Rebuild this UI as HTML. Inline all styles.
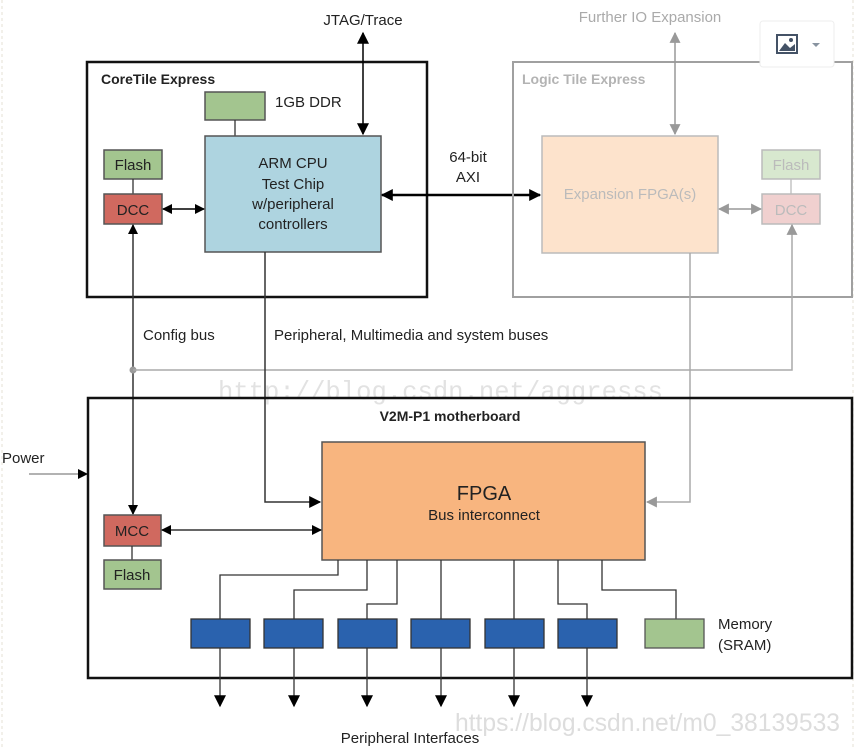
<!DOCTYPE html>
<html><head><meta charset="utf-8"><style>
html,body{margin:0;padding:0;background:#fff;}
svg{display:block;font-family:"Liberation Sans",Arial,sans-serif;}
</style></head><body>
<svg width="855" height="749" viewBox="0 0 855 749" xmlns="http://www.w3.org/2000/svg">
<defs>
<marker id="a" viewBox="0 0 10 10" refX="9" refY="5" markerWidth="11" markerHeight="10" markerUnits="userSpaceOnUse" orient="auto-start-reverse"><path d="M0,0L10,5L0,10z" fill="#000"/></marker>
<marker id="aw" viewBox="0 0 10 10" refX="9" refY="5" markerWidth="13" markerHeight="12" markerUnits="userSpaceOnUse" orient="auto-start-reverse"><path d="M0,0L10,5L0,10z" fill="#000"/></marker>
<marker id="g" viewBox="0 0 10 10" refX="9" refY="5" markerWidth="11" markerHeight="11" markerUnits="userSpaceOnUse" orient="auto-start-reverse"><path d="M0,0L10,5L0,10z" fill="#999"/></marker>
</defs>
<line x1="2" y1="0" x2="2" y2="749" stroke="#e6e0d6" stroke-dasharray="3,3"/>
<line x1="853" y1="0" x2="853" y2="749" stroke="#e6e0d6" stroke-dasharray="3,3"/>

<rect x="87" y="62" width="340" height="235" fill="none" stroke="#111" stroke-width="2.5"/>
<text x="101" y="84" font-size="14" font-weight="bold" fill="#222">CoreTile Express</text>
<rect x="205" y="92" width="60" height="28" fill="#a3c58f" stroke="#555" stroke-width="1.5"/>
<text x="275" y="107" font-size="15" fill="#222">1GB DDR</text>
<line x1="235" y1="120" x2="235" y2="136" stroke="#333" stroke-width="1.3"/>
<rect x="205" y="136" width="176" height="116" fill="#aed4e0" stroke="#555" stroke-width="1.5"/>
<g font-size="15" fill="#222" text-anchor="middle">
<text x="293" y="168">ARM CPU</text><text x="293" y="189">Test Chip</text><text x="293" y="209">w/peripheral</text><text x="293" y="229">controllers</text></g>
<rect x="104" y="150" width="58" height="29" fill="#a3c58f" stroke="#555" stroke-width="1.5"/>
<text x="133" y="170" font-size="15" text-anchor="middle" fill="#222">Flash</text>
<line x1="133" y1="179" x2="133" y2="194" stroke="#333" stroke-width="1.3"/>
<rect x="104" y="194" width="58" height="30" fill="#d0695f" stroke="#555" stroke-width="1.5"/>
<text x="133" y="215" font-size="15" text-anchor="middle" fill="#222">DCC</text>
<line x1="163" y1="209" x2="204" y2="209" stroke="#000" stroke-width="1.5" marker-start="url(#a)" marker-end="url(#a)"/>
<line x1="363" y1="33" x2="363" y2="134" stroke="#000" stroke-width="1.5" marker-start="url(#aw)" marker-end="url(#aw)"/>
<text x="363" y="25" font-size="15" text-anchor="middle" fill="#222">JTAG/Trace</text>
<line x1="382" y1="195" x2="540" y2="195" stroke="#000" stroke-width="2.5" marker-start="url(#aw)" marker-end="url(#aw)"/>
<text x="468" y="162" font-size="15" text-anchor="middle" fill="#222">64-bit</text>
<text x="468" y="182" font-size="15" text-anchor="middle" fill="#222">AXI</text>

<rect x="513" y="62" width="339" height="235" fill="none" stroke="#a0a0a0" stroke-width="2"/>
<text x="522" y="84" font-size="14" font-weight="bold" fill="#b3b3b3">Logic Tile Express</text>
<rect x="542" y="136" width="176" height="117" fill="#fde3cc" stroke="#bbb" stroke-width="1.5"/>
<text x="630" y="199" font-size="15" text-anchor="middle" fill="#bbb">Expansion FPGA(s)</text>
<rect x="762" y="150" width="58" height="29" fill="#d8e8cf" stroke="#bbb" stroke-width="1.5"/>
<text x="791" y="170" font-size="15" text-anchor="middle" fill="#bbb">Flash</text>
<line x1="791" y1="179" x2="791" y2="194" stroke="#bbb" stroke-width="1.3"/>
<rect x="762" y="194" width="58" height="30" fill="#f0d0cf" stroke="#bbb" stroke-width="1.5"/>
<text x="791" y="215" font-size="15" text-anchor="middle" fill="#bbb">DCC</text>
<line x1="719" y1="209" x2="761" y2="209" stroke="#999" stroke-width="1.5" marker-start="url(#g)" marker-end="url(#g)"/>
<line x1="675" y1="33" x2="675" y2="134" stroke="#999" stroke-width="1.5" marker-start="url(#g)" marker-end="url(#g)"/>
<text x="650" y="22" font-size="15" text-anchor="middle" fill="#aaa">Further IO Expansion</text>

<rect x="760" y="21" width="74" height="46" rx="3" fill="#fff" stroke="#eee"/>
<rect x="777" y="35" width="20" height="18" fill="#fff" stroke="#445266" stroke-width="2"/>
<path d="M779,51L785,43L790,48L795,44L795,51z" fill="#445266"/><circle cx="791" cy="40" r="2" fill="#445266"/>
<path d="M812,43L820,43L816,47z" fill="#8893a0"/>

<line x1="133" y1="225" x2="133" y2="514" stroke="#333" stroke-width="1.5" marker-start="url(#a)" marker-end="url(#a)"/>
<circle cx="133" cy="370" r="3.5" fill="#999"/>
<polyline points="133,370 792,370 792,225" fill="none" stroke="#aaa" stroke-width="1.5" marker-end="url(#g)"/>
<text x="143" y="340" font-size="15" fill="#222">Config bus</text>
<text x="274" y="340" font-size="15" fill="#222">Peripheral, Multimedia and system buses</text>
<polyline points="265,252 265,502 320,502" fill="none" stroke="#333" stroke-width="1.5" marker-end="url(#aw)"/>
<polyline points="690,253 690,502 647,502" fill="none" stroke="#aaa" stroke-width="1.5" marker-end="url(#g)"/>
<text x="218" y="399" font-size="26" font-family="Liberation Mono,monospace" fill="#ddd" opacity="0.85" textLength="445" lengthAdjust="spacingAndGlyphs">http://blog.csdn.net/aggresss</text>

<rect x="88" y="398" width="764" height="280" fill="none" stroke="#111" stroke-width="2.5"/>
<text x="450" y="421" font-size="14" font-weight="bold" text-anchor="middle" fill="#222">V2M-P1 motherboard</text>
<text x="2" y="463" font-size="15" fill="#222">Power</text>
<line x1="29" y1="474" x2="87" y2="474" stroke="#999" stroke-width="1.5" marker-end="url(#a)"/>
<rect x="322" y="442" width="323" height="118" fill="#f8b57f" stroke="#555" stroke-width="1.5"/>
<text x="484" y="500" font-size="20" text-anchor="middle" fill="#222">FPGA</text>
<text x="484" y="520" font-size="15" text-anchor="middle" fill="#222">Bus interconnect</text>
<rect x="104" y="515" width="57" height="31" fill="#d0695f" stroke="#555" stroke-width="1.5"/>
<text x="132" y="536" font-size="15" text-anchor="middle" fill="#222">MCC</text>
<line x1="132" y1="546" x2="132" y2="560" stroke="#333" stroke-width="1.3"/>
<rect x="104" y="560" width="57" height="29" fill="#a3c58f" stroke="#555" stroke-width="1.5"/>
<text x="132" y="580" font-size="15" text-anchor="middle" fill="#222">Flash</text>
<line x1="162" y1="530" x2="321" y2="530" stroke="#333" stroke-width="1.5" marker-start="url(#a)" marker-end="url(#a)"/>

<g fill="none" stroke="#333" stroke-width="1.3">
<polyline points="338,560 338,575 220,575 220,619"/>
<polyline points="367,560 367,590 294,590 294,619"/>
<polyline points="397,560 397,604 367,604 367,619"/>
<polyline points="441,560 441,619"/>
<polyline points="514,560 514,619"/>
<polyline points="558,560 558,604 587,604 587,619"/>
<polyline points="602,560 602,590 676,590 676,619"/>
</g>
<g fill="#2a62ae" stroke="#333" stroke-width="1.3">
<rect x="191" y="619" width="59" height="29"/><rect x="264" y="619" width="59" height="29"/><rect x="338" y="619" width="59" height="29"/>
<rect x="411" y="619" width="59" height="29"/><rect x="485" y="619" width="59" height="29"/><rect x="558" y="619" width="59" height="29"/>
</g>
<rect x="645" y="619" width="59" height="29" fill="#a3c58f" stroke="#555" stroke-width="1.3"/>
<text x="718" y="629" font-size="15" fill="#222">Memory</text>
<text x="718" y="650" font-size="15" fill="#222">(SRAM)</text>
<g stroke="#333" stroke-width="1.3" marker-end="url(#aw)">
<line x1="220" y1="648" x2="220" y2="706"/><line x1="294" y1="648" x2="294" y2="706"/><line x1="367" y1="648" x2="367" y2="706"/>
<line x1="441" y1="648" x2="441" y2="706"/><line x1="514" y1="648" x2="514" y2="706"/><line x1="587" y1="648" x2="587" y2="706"/>
</g>
<text x="455" y="731" font-size="25" fill="#ddd" textLength="385" lengthAdjust="spacingAndGlyphs">https://blog.csdn.net/m0_38139533</text>
<text x="410" y="743" font-size="15" text-anchor="middle" fill="#222">Peripheral Interfaces</text>
</svg>
</body></html>
